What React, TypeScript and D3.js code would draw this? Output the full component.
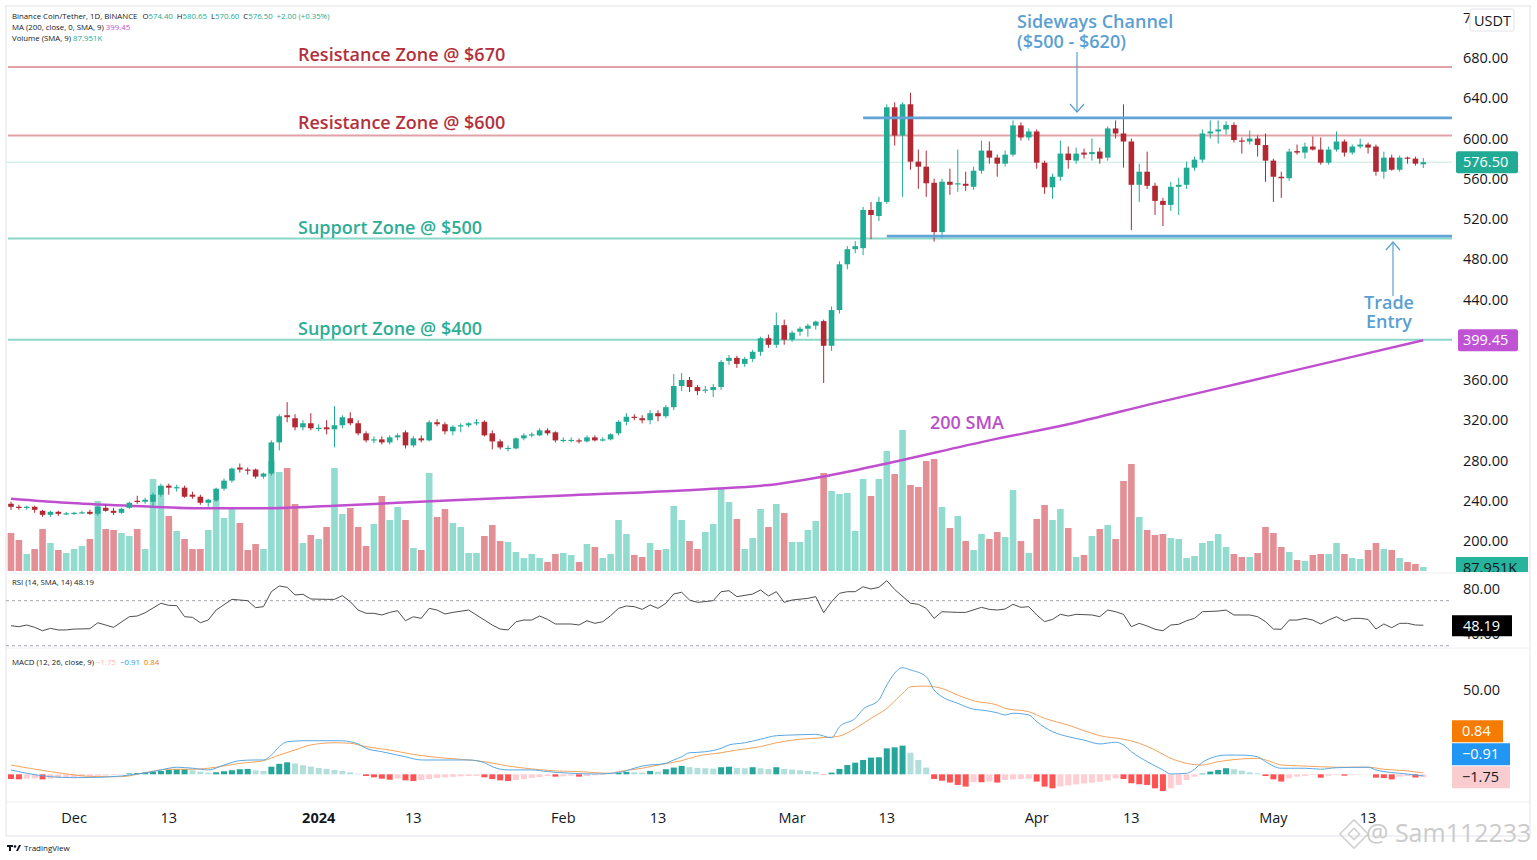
import React from "react";
import * as d3 from "d3";

// ---- data ----
const startDay = new Date(Date.UTC(2023, 10, 23)); // first candle

const opens = [237,234,233,234,230,226,229,227,227.5,228,229,227,233,230,228,233,240,239,239,246,255,253,253,246,244,238,240,252,260,273,271,271,264,267,298,325,322,313,317,312,313,311,315,322,317,307,300,301,298,303,308,295,302,300,318,316,309,314,315,317.5,318.5,307,299,292,292,302,305,305,310,308,300,300,300,299,303,300.5,301,307,318.5,323.5,322,320,327,324,333,354,360,353,350,350,353,379,382,376,381,388,401.5,395,414.5,400,408,411,414,418.5,394,429.5,475,490,491,529,523,537,631,603,634,577,572,556,507,557,554.5,555,552,568,588,581,575,584,613,601,607,576,551.5,562,585,578,586,584.5,587,581,610,605,597,554,567,553,538,534,552,554,571,579,605,607,609,613.5,598,597,600,593.5,578,562,560.5,587.5,586,592,589,576,589,597,586,592,594,592,567,581,569,581,580,574.4];
const highs = [239,236,235,235,231,230,230,229,229,230,231,236,236,233,233,239,245,243,248,257,257,256,255,249,246,242,253,262,273,277,273,272,268,300,326,338,326,320,327,316,320,334,325,328,320,309,304,304,305,307,310,304,305,320,321,318,315,317,318,321,320,310,301,295,303,307,308,312,312,309,303,303,302,305,305,303,307,320,327,326,325,330,330,335,366,367,363,355,354,356,380,385,384,383,390,403,405,427,420,409,413,416,419,420,433,478,493,498,532,537,542,634,636,636,645.5,589,588,560,560,570,589,567,572,598,597,584,588,618,616,610,609,578,565,598,592,591,590,600,591,612,618,634,600,575,587,556,541,557,561,577,582,609,618,618,617,616,601,608,603,605,580,567,590,594,596,602,601,592,607,599,594,600,596,594,587,584,583,582,582,580.65];
const lows = [231,231,231,228,224,224,225,226,226,227,226,225,229,226,227,232,237,237,233,244,246,249,243,242,236,234,239,250,258,268,266,262,262,265,290,318,310,310,310,309,306,293,312,315,305,298,297,296,296,300,292,293,298,299,314,306,305,308,313,315,304,291,291,289,291,300,303,304,305,298,298,298,297,298,299,299,300,305,315,320,317,316,319,322,330,349,348,345,347,343,350,375,372,373,378,384,392,392,395,398,404,403,410,357,389,426,470,486,484,500,518,535,593,542,569,550,542,497.5,501,544,547,548,549,565,575,562,572,582,598,598,570,545,540,558,570,575,580,578,575,578,600,571,509,537,550,524,513,528,524,550,568,576,600,595,604,596,585,594,582,557,537,541,558,584,580,588,574,574,587,582,584,590,585,563,560,568,567,575,573,570.6];
const closes = [234,233,234,231,226,229,227,227.5,228,228.5,227,234,230,228,232,238,239,241,246,255,253,253.5,244,244,238,241,252,260,272,271,270,264,267,298,324,323,313,317,312,312.5,311,315,323,317,307,300,301,298,303,305,295,302,300,318,316,309,313.5,315,317,318,305,299,293,292.5,302,305,306,310,307,300,300.5,300.5,299,303,300,301,306,318.5,323.5,323,320,327,324,333,354,360,353,349,350.5,353,378,382,376,381,388,401.5,395,414.5,400,407,411,414,418,394,429.5,475,490,493,529,524,537,631,603,634,577,572,555.5,507,557,554,555.5,553,568,588,581,575,584,613,601,607,576,551.5,562,585,578.5,585,584,586.5,580,610,605,597,554,567,553,538,534,552,554,571,579,605,607,609,613.5,598.5,597,600,593.5,578,562,560.5,587,586,592,589,576,589,597,586,592,594,591,567,581,569,581,580,575,576.5];
// volume in thousands of BNB
const volumes = [836,682,374,484,924,616,462,396,484,550,704,1540,924,902,836,770,924,484,2024,1870,1210,880,704,484,484,902,1540,1166,1364,1056,462,594,484,2420,2178,2266,1474,616,792,704,968,2266,1254,1386,968,550,1034,1650,1122,1408,1122,506,462,2156,1188,1364,1056,968,396,396,770,1012,660,638,418,286,374,286,198,374,396,352,198,594,528,286,374,1122,814,352,308,616,462,484,1430,1122,660,484,858,1034,1826,1518,1144,484,726,1364,968,1474,1276,638,638,902,1100,2156,1760,1694,1716,880,2024,1650,2024,2640,2134,3102,1892,1848,2420,2464,1408,946,1210,660,462,814,704,858,748,1782,660,396,1144,1452,1122,1364,946,308,352,770,924,1012,704,1980,2354,1188,902,792,814,726,704,286,330,616,660,814,528,374,308,308,396,968,836,528,418,242,220,352,374,374,616,374,286,264,462,616,484,462,286,198,154,87.951];

// [day index, value]
const smaPoints = [[0,242],[7,238],[15,235],[24,232.5],[32,232.5],[41,235],[49,238],[56,240.5],[71,245.5],[88,251.5],[97,256.5],[103,264],[111,277],[113,280.5],[124,300],[134,316],[145,337],[157,359],[170,383],[179,399.45]];
const rsiPoints = [[0,47.8],[1,46.9],[2,48.4],[3,46.3],[4,43.3],[5,45.4],[6,44],[7,44],[8,44.8],[10,45.1],[11,50.4],[12,48.4],[13,46.3],[15,55.8],[16,56.4],[17,59.3],[19,67.7],[20,65.9],[21,65.6],[22,55.8],[23,55.2],[24,50.4],[25,52.8],[26,61.7],[28,71.2],[29,70.6],[30,70],[31,63.8],[32,64.7],[33,78],[34,83.1],[35,81.9],[36,75.1],[37,75.7],[38,71.5],[40,71.2],[41,71.2],[42,74.5],[43,69.1],[44,61.7],[45,58.8],[46,58.8],[47,57.3],[48,59.6],[49,61.1],[50,52.2],[51,55.7],[52,54.3],[53,63.2],[54,61.7],[55,58.2],[56,59.6],[58,61.7],[60,52.8],[61,48.4],[62,44.8],[63,44],[64,51.3],[65,52.8],[66,52.8],[67,56.4],[68,53.4],[69,49.3],[71,49.3],[72,48.4],[73,52.2],[74,49.9],[75,51.3],[76,56.7],[77,63.2],[78,65.3],[79,64.7],[80,62.3],[81,66.2],[82,63.2],[83,67.7],[84,76],[85,77.5],[86,70.6],[87,68.5],[89,70],[90,78],[91,78.9],[92,73.6],[94,75.9],[95,79.5],[96,74.2],[97,78],[98,68.5],[99,70.6],[101,72.1],[102,73.6],[103,59.3],[104,69.1],[105,76.6],[106,78],[107,78],[108,82.4],[109,80.4],[110,81.9],[111,87.8],[112,80],[114,67.7],[115,66.8],[116,63.2],[117,54.3],[118,60.2],[120,59.6],[121,59.6],[123,64.1],[124,62.3],[125,61.7],[126,62.6],[127,66.8],[128,64.1],[129,64.7],[130,57.3],[131,51.4],[132,53.4],[133,57.9],[134,56.4],[135,57.9],[137,57.3],[138,55.8],[139,61.7],[140,60.2],[141,57.9],[142,46.9],[143,49.9],[144,47.5],[145,44.6],[146,43.3],[147,48.4],[148,49],[149,52.2],[150,54.3],[151,60.2],[153,60.8],[154,61.7],[155,57.3],[157,57.3],[158,55.8],[159,51.4],[160,44.8],[161,44.6],[162,52.8],[163,52.8],[164,54.3],[165,52.8],[166,49.3],[167,52.8],[168,55.8],[169,51.9],[170,54.3],[171,54.3],[172,53.4],[173,44.8],[174,49.3],[175,46],[176,49.9],[177,49.9],[178,48.4],[179,48.19]];
const macdPoints = [[0,2.6],[2,0.6],[5,-1.4],[8,-2],[11,-1.8],[14,-1],[16,0.2],[18,1.6],[20,3.6],[21,4.2],[23,3.6],[25,2.6],[27,5.5],[29,8.1],[31,8.5],[32,8.5],[33,11.4],[34,16.4],[35,19.3],[37,19.9],[39,19.9],[42,19.9],[43,19.3],[44,18],[45,15.4],[47,13.4],[50,10.4],[52,8.5],[56,8.5],[58,8.5],[60,6.9],[61,4.5],[63,2.6],[66,2.6],[68,1.6],[71,0.6],[74,0.2],[77,1],[79,3.6],[80,4.9],[83,6.5],[84,8.5],[85,10.4],[86,12.8],[87,13],[88,13.4],[90,15.4],[91,17.4],[93,18.7],[95,20.8],[97,22.9],[99,23.3],[102,23.7],[104,21.7],[105,28.2],[107,33.2],[108,38.6],[110,44.1],[111,53],[113,63.2],[114,61.9],[116,57.9],[117,50],[118,46],[120,42.1],[122,38.6],[123,38.1],[125,36.5],[126,35.2],[127,36.2],[129,35.2],[130,31.2],[132,25.3],[134,22.3],[136,20.3],[138,18],[140,19],[141,17.4],[142,13.4],[144,7.5],[146,2.6],[147,0.2],[149,0.6],[150,3],[151,7.1],[152,9.5],[154,11.4],[156,11.4],[158,10.4],[159,7.5],[161,3.6],[164,3.6],[166,3],[168,3.9],[172,4.2],[173,2.6],[174,1.6],[176,0.6],[179,-0.91]];
const signalPoints = [[0,5.5],[5,1.6],[11,-1.4],[14,-1.4],[17,1],[20,3],[23,3],[26,4.2],[29,6.5],[32,8.1],[34,11.4],[36,14.4],[38,17.4],[41,18.7],[43,18.4],[45,16.4],[48,14.4],[51,11.8],[54,10],[57,8.9],[60,7.5],[63,4.9],[66,3.2],[69,2],[72,1.6],[76,0.6],[77,1.6],[80,3.6],[82,5.5],[85,8.1],[87,10.8],[90,12.8],[92,14.4],[95,16.4],[97,18.7],[100,20.8],[103,21.7],[105,22.7],[107,27.2],[109,33.2],[111,39.1],[113,48],[114,51.9],[116,52.3],[118,50.9],[120,47],[122,43.6],[125,41.1],[126,39.1],[129,37.1],[131,33.2],[134,29.2],[136,25.9],[138,22.9],[141,20.8],[143,18.4],[145,14.4],[147,9.5],[149,6.5],[151,5.5],[153,7.5],[156,9.1],[158,9.5],[160,6.9],[161,5.5],[164,4.9],[168,4.2],[172,4.2],[174,3],[177,2],[179,0.84]];
const histValues = [-2.8,-3,-2.6,-2.4,-3,-2.6,-2.2,-1.9,-1.6,-1.3,-1.1,-0.9,-0.7,-0.5,-0.2,0.5,0.8,1.1,1.5,2,2.6,3,3.1,2.4,1.6,1,1.2,1.8,2.4,3,3.2,2.3,2,4.5,6.2,7.1,6.4,5.4,4.6,3.8,3.2,2.6,2,1.2,0.4,-1,-1.8,-2.6,-3.2,-2.4,-3.6,-4,-3.4,-2.8,-2.2,-1.8,-1.5,-1.2,-1,-0.9,-1.8,-2.8,-3.6,-4,-3.4,-2.8,-2.2,-1.6,-1,-1.4,-1.2,-0.8,-1.4,-1,-0.6,-0.4,-0.1,0.8,1.4,1.2,1,2,1.6,3,4,5,4.2,3.8,3.6,3.4,4.2,4.5,3.8,3.6,4.2,3.6,3.2,4.2,3.2,2.8,2.4,2,1.4,-0.2,1,3.2,5.5,6.9,8.5,9.9,10.1,15.4,16,17,12.8,8.5,4,-2.8,-3.8,-4.9,-6.3,-7.3,-4.7,-4.7,-4.3,-4.9,-3.4,-3,-2.8,-2.6,-4.3,-7.3,-8.3,-7.2,-6.6,-6,-5.4,-5,-4.4,-3.6,-2.4,-2.8,-5.3,-5.9,-6.3,-8.3,-9.9,-8.3,-6.3,-3.4,-1.4,0.4,1.6,2.6,3.6,3,2.2,1.2,0.6,-1,-3,-4.3,-2.4,-1.4,-1,-0.4,-2,-0.8,-0.5,-0.8,-0.5,-0.3,-0.2,-2,-2.2,-3,-1.4,-1,-1.9,-1.75];

const priceTicks = [200,240,280,320,360,400,440,480,520,560,600,640,680,720];
const rsiTicks = [40, 80];
const macdTicks = [50];
const timeTicks = [
  { label: "Dec", date: "2023-12-01" },
  { label: "13", date: "2023-12-13" },
  { label: "2024", date: "2024-01-01", bold: true },
  { label: "13", date: "2024-01-13" },
  { label: "Feb", date: "2024-02-01" },
  { label: "13", date: "2024-02-13" },
  { label: "Mar", date: "2024-03-01" },
  { label: "13", date: "2024-03-13" },
  { label: "Apr", date: "2024-04-01" },
  { label: "13", date: "2024-04-13" },
  { label: "May", date: "2024-05-01" },
  { label: "13", date: "2024-05-13" },
];

// drawn zones and channel
const resistanceZones = [{ label: "Resistance Zone @ $670", price: 671 }, { label: "Resistance Zone @ $600", price: 603 }];
const supportZones = [{ label: "Support Zone @ $500", price: 500.6 }, { label: "Support Zone @ $400", price: 400 }];
const channelLines = [{ from: 108, price: 620.5 }, { from: 111, price: 503 }];

const UP = "#22ab94";
const DOWN = "#b22833";
const VOL_UP = "#92dccf";
const VOL_DOWN = "#e38f95";
const FONT = "'Open Sans', 'Noto Sans', sans-serif";

const dayIndex = (s: string) => d3.utcDay.count(startDay, new Date(s + "T00:00:00Z"));

export default function App() {
  const n = closes.length;
  const x = d3.scaleLinear().domain([0, n - 1]).range([11, 1423.3]);
  const yP = d3.scaleLinear().domain([200, 680]).range([541, 58]);
  const yV = d3.scaleLinear().domain([0, d3.max(volumes) as number]).range([571, 430]);
  const yR = d3.scaleLinear().domain([30, 70]).range([645.7, 600.7]);
  const yM = d3.scaleLinear().domain([0, 50]).range([774.3, 690]);

  const plotL = 6, plotR = 1452, axisX = 1463;
  const lineOf = (ys: d3.ScaleLinear<number, number>) =>
    d3.line<number[]>().x((d) => x(d[0])).y((d) => ys(d[1]));

  const smaPath = lineOf(yP).curve(d3.curveMonotoneX)(smaPoints as any) || "";
  const rsiPath = lineOf(yR)(rsiPoints as any) || "";
  const macdPath = lineOf(yM).curve(d3.curveMonotoneX)(macdPoints as any) || "";
  const signalPath = lineOf(yM).curve(d3.curveMonotoneX)(signalPoints as any) || "";

  const last = n - 1;
  const lastClose = closes[last];
  const lastSma = smaPoints[smaPoints.length - 1][1];
  const lastRsi = rsiPoints[rsiPoints.length - 1][1];

  // MACD value tags, stacked so they do not overlap
  const macdTags = [
    { v: histValues[last], fill: "#f9ccd0", color: "#131722", w: 58 },
    { v: macdPoints[macdPoints.length - 1][1], fill: "#2196f3", color: "#fff", w: 58 },
    { v: signalPoints[signalPoints.length - 1][1], fill: "#f57c00", color: "#fff", w: 51 },
  ];
  let prevY = Infinity;
  const placedTags = macdTags.map((t) => {
    const y = Math.min(yM(t.v), prevY - 23);
    prevY = y;
    return { ...t, y };
  });

  const histColor = (v: number, i: number) => {
    const p = i > 0 ? histValues[i - 1] : v;
    if (v >= 0) return v >= p ? "#26a69a" : "#b2dfdb";
    return v <= p ? "#ff5252" : "#ffcdd2";
  };

  const fmt = d3.format(".2f");

  return (
    <svg width={1537} height={860} style={{ position: "absolute", left: 0, top: 0, background: "#fff" }} fontFamily={FONT}>
      <defs>
        <clipPath id="pricePane"><rect x={plotL} y={6} width={plotR - plotL} height={567} /></clipPath>
        <clipPath id="volPane"><rect x={plotL} y={6} width={1530 - plotL} height={566} /></clipPath>
      </defs>
      <rect x={0} y={0} width={1537} height={860} fill="#fff" />

      {/* frame and pane separators */}
      <rect x={6} y={6} width={1524} height={830} fill="none" stroke="#e0e3eb" />
      {[573, 648, 802].map((y) => (
        <line key={y} x1={6} x2={1530} y1={y} y2={y} stroke="#eceef2" />
      ))}

      {/* volume */}
      <g clipPath="url(#pricePane)">
        {volumes.map((v, i) => (
          <rect key={i} x={x(i) - 3.3} width={6.6} y={yV(v)} height={571 - yV(v)}
            fill={closes[i] >= opens[i] ? VOL_UP : VOL_DOWN} />
        ))}
      </g>

      {/* last price line */}
      <line x1={plotL} x2={plotR} y1={yP(lastClose)} y2={yP(lastClose)} stroke="#c3e9e2" strokeWidth={1} />

      {/* zones */}
      {resistanceZones.map((z) => (
        <g key={z.label}>
          <line x1={plotL + 2} x2={plotR} y1={yP(z.price)} y2={yP(z.price)} stroke="#e2a1a7" strokeWidth={2} />
          <text x={298} y={yP(z.price) - 6} fontSize={18} fontWeight={600} fill="#b3303b">{z.label}</text>
        </g>
      ))}
      {supportZones.map((z) => (
        <g key={z.label}>
          <line x1={plotL + 2} x2={plotR} y1={yP(z.price)} y2={yP(z.price)} stroke="#8ad7ca" strokeWidth={2} />
          <text x={298} y={yP(z.price) - 5} fontSize={18} fontWeight={600} fill="#2cad96">{z.label}</text>
        </g>
      ))}

      {/* 200 SMA */}
      <path d={smaPath} fill="none" stroke="#c04fd0" strokeWidth={2.5} />
      <text x={930} y={429} fontSize={18} fontWeight={600} fill="#b94fc9">200 SMA</text>

      {/* candles */}
      <g clipPath="url(#pricePane)">
        {closes.map((c, i) => {
          const o = opens[i];
          const col = c >= o ? UP : DOWN;
          const top = yP(Math.max(o, c));
          const bot = yP(Math.min(o, c));
          return (
            <g key={i}>
              <line x1={x(i)} x2={x(i)} y1={yP(highs[i])} y2={yP(lows[i])} stroke={col} strokeWidth={1} />
              <rect x={x(i) - 2.8} width={5.6} y={top} height={Math.max(1.2, bot - top)} fill={col} />
            </g>
          );
        })}
      </g>

      {/* sideways channel */}
      {channelLines.map((c) => (
        <line key={c.price} x1={x(c.from)} x2={plotR} y1={yP(c.price)} y2={yP(c.price)} stroke="#62a4d7" strokeWidth={2.6} />
      ))}
      <text x={1017} y={28} fontSize={18} fontWeight={600} fill="#5b9fd2">Sideways Channel</text>
      <text x={1017} y={48} fontSize={18} fontWeight={600} fill="#5b9fd2">($500 - $620)</text>
      <g stroke="#5b9fd2" strokeWidth={1.2} fill="none">
        <line x1={1077} x2={1077} y1={52} y2={112} />
        <polyline points="1070,104 1077,112 1084,104" />
        <line x1={1393} x2={1393} y1={296} y2={242} />
        <polyline points="1386,250 1393,242 1400,250" />
      </g>
      <text x={1389} y={309} fontSize={18} fontWeight={600} fill="#5b9fd2" textAnchor="middle">Trade</text>
      <text x={1389} y={328} fontSize={18} fontWeight={600} fill="#5b9fd2" textAnchor="middle">Entry</text>

      {/* price axis */}
      {priceTicks.map((t) => (
        <text key={t} x={axisX} y={yP(t) + 5} fontSize={14.5} fill="#131722">{fmt(t)}</text>
      ))}
      <rect x={1470} y={9} width={44} height={22} rx={2} fill="#fff" stroke="#e0e3eb" />
      <text x={1474} y={26} fontSize={14.5} fill="#131722">USDT</text>
      <rect x={1456} y={yP(lastClose) - 11} width={62} height={22} rx={2} fill={UP} />
      <text x={axisX} y={yP(lastClose) + 5} fontSize={14.5} fill="#fff">{fmt(lastClose)}</text>
      <rect x={1458} y={yP(lastSma) - 11} width={60} height={22} rx={2} fill="#c052d4" />
      <text x={axisX} y={yP(lastSma) + 5} fontSize={14.5} fill="#fff">{fmt(lastSma)}</text>
      <g clipPath="url(#volPane)">
        <rect x={1456} y={yV(volumes[last]) - 10} width={72} height={22} fill="#26b59c" />
        <text x={axisX} y={yV(volumes[last]) + 6} fontSize={14.5} fill="#131722">{`${volumes[last].toFixed(3)}K`}</text>
      </g>

      {/* RSI pane */}
      {[70, 30].map((v) => (
        <line key={v} x1={plotL} x2={plotR} y1={yR(v)} y2={yR(v)} stroke="#a3a6af" strokeDasharray="3,3" strokeWidth={1} />
      ))}
      <path d={rsiPath} fill="none" stroke="#4f4f4f" strokeWidth={1} />
      {rsiTicks.map((t) => (
        <text key={t} x={axisX} y={yR(t) + 5} fontSize={14.5} fill="#131722">{fmt(t)}</text>
      ))}
      <rect x={1452} y={yR(lastRsi) - 10} width={60} height={21} fill="#000" />
      <text x={axisX} y={yR(lastRsi) + 6} fontSize={14.5} fill="#fff">{fmt(lastRsi)}</text>

      {/* MACD pane */}
      {histValues.map((v, i) => (
        <rect key={i} x={x(i) - 3} width={6} y={Math.min(yM(v), yM(0))} height={Math.abs(yM(v) - yM(0))} fill={histColor(v, i)} />
      ))}
      <path d={signalPath} fill="none" stroke="#f2a35e" strokeWidth={1} />
      <path d={macdPath} fill="none" stroke="#5aa8e2" strokeWidth={1} />
      {macdTicks.map((t) => (
        <text key={t} x={axisX} y={yM(t) + 5} fontSize={14.5} fill="#131722">{fmt(t)}</text>
      ))}
      {placedTags.map((t) => (
        <g key={t.fill}>
          <rect x={1452} y={t.y - 11} width={t.w} height={22} fill={t.fill} />
          <text x={1462} y={t.y + 5} fontSize={14.5} fill={t.color}>{fmt(t.v).replace("-", "\u2212")}</text>
        </g>
      ))}

      {/* time axis */}
      {timeTicks.map((t) => (
        <text key={t.date} x={x(dayIndex(t.date))} y={823} fontSize={14.5} textAnchor="middle"
          fontWeight={t.bold ? 700 : 400} fill="#131722">{t.label}</text>
      ))}

      {/* legends */}
      <text x={12} y={19} fontSize={7.8} fill="#131722">
        Binance Coin/Tether, 1D, BINANCE
        <tspan dx={5}>O</tspan><tspan fill={UP}>{fmt(opens[last])}</tspan>
        <tspan dx={4}>H</tspan><tspan fill={UP}>{fmt(highs[last])}</tspan>
        <tspan dx={4}>L</tspan><tspan fill={UP}>{fmt(lows[last])}</tspan>
        <tspan dx={4}>C</tspan><tspan fill={UP}>{fmt(lastClose)}</tspan>
        <tspan dx={4} fill={UP}>+2.00 (+0.35%)</tspan>
      </text>
      <text x={12} y={30} fontSize={7.8} fill="#131722">
        MA (200, close, 0, SMA, 9) <tspan fill="#c052d4">{fmt(lastSma)}</tspan>
      </text>
      <text x={12} y={41} fontSize={7.8} fill="#131722">
        Volume (SMA, 9) <tspan fill={UP}>{volumes[last].toFixed(3)}K</tspan>
      </text>
      <text x={12} y={585} fontSize={7.8} fill="#131722">
        RSI (14, SMA, 14) <tspan>{fmt(lastRsi)}</tspan>
      </text>
      <text x={12} y={665} fontSize={7.8} fill="#131722">
        MACD (12, 26, close, 9) <tspan fill="#f9b5bb">{fmt(histValues[last])}</tspan>
        <tspan dx={4} fill="#2196f3">{fmt(macdPoints[macdPoints.length - 1][1])}</tspan>
        <tspan dx={4} fill="#f57c00">{fmt(signalPoints[signalPoints.length - 1][1])}</tspan>
      </text>

      {/* TradingView mark */}
      <g fill="#131722">
        <rect x={7} y={845} width={6} height={2} />
        <rect x={9} y={845} width={2} height={6} />
        <circle cx={15} cy={846.5} r={1.3} />
        <polygon points="16,851 19,845 21,845 18,851" />
      </g>
      <text x={24} y={851} fontSize={8} fill="#131722">TradingView</text>

      {/* watermark */}
      <g stroke="#cfcfcf" strokeWidth={1.5} fill="none" transform="translate(1354,834) rotate(45)">
        <rect x={-4} y={-4} width={8} height={8} />
        <rect x={-10} y={-10} width={20} height={20} />
      </g>
      <text x={1366} y={842} fontSize={25} fill="#cbcbcb">@ Sam112233</text>
    </svg>
  );
}
